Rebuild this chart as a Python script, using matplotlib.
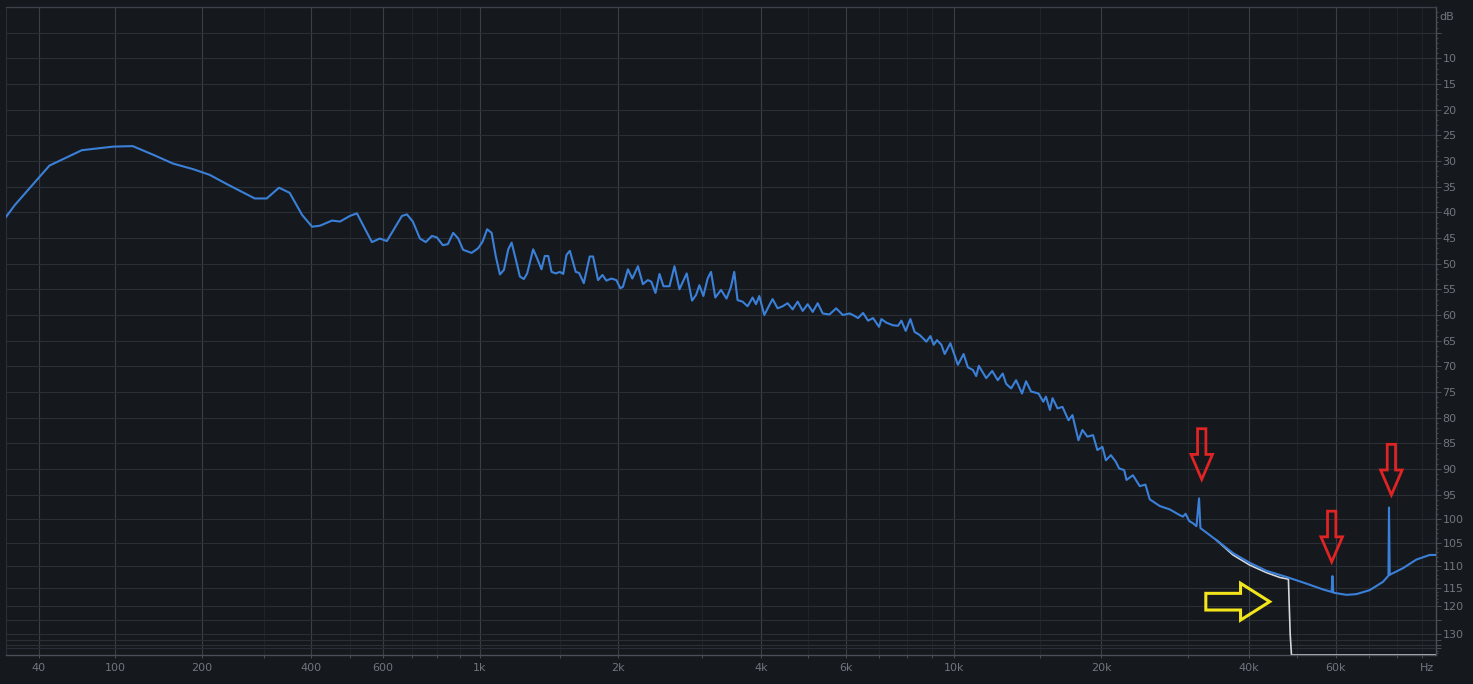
import matplotlib

matplotlib.use("Agg")
import matplotlib.pyplot as plt
import numpy as np
from matplotlib.patches import ArrowStyle

# spectrum (blue): frequency in Hz, level in dB
blue_hz = [
    20, 25, 47, 71, 98, 117, 139, 162, 188, 211, 237, 258, 284, 306, 330,
    352, 379, 402, 421, 451, 472, 499, 519, 564, 589, 612, 664, 682, 704,
    731, 754, 779, 800, 825, 847, 871, 894, 917, 958, 991, 1014, 1038, 1062,
    1085, 1108, 1131, 1156, 1176, 1202, 1226, 1251, 1272, 1311, 1338, 1367,
    1390, 1414, 1438, 1469, 1499, 1524, 1549, 1575, 1622, 1649, 1688, 1738,
    1767, 1811, 1851, 1887, 1934, 1982, 2021, 2047, 2098, 2143, 2203, 2257,
    2312, 2351, 2400, 2447, 2495, 2569, 2632, 2696, 2793, 2866, 2922, 2969,
    3027, 3090, 3141, 3207, 3296, 3385, 3458, 3513, 3569, 3656, 3745, 3836,
    3899, 3961, 4058, 4156, 4222, 4325, 4430, 4537, 4647, 4760, 4875, 4993,
    5114, 5237, 5364, 5538, 5718, 5900, 6100, 6247, 6345, 6498, 6654, 6814,
    7009, 7089, 7259, 7490, 7670, 7793, 7953, 8131, 8297, 8499, 8772, 8939,
    9080, 9222, 9416, 9564, 9824, 10179, 10457, 10671, 10925, 11098, 11235,
    11634, 11966, 12286, 12576, 12779, 13082, 13392, 13774, 14036, 14369,
    14889, 15221, 15416, 15707, 15900, 16277, 16663, 17138, 17463, 17959,
    18299, 18731, 19237, 19630, 20104, 20432, 20917, 21412, 21746, 22264,
    22508, 23200, 23956, 24600, 25107, 26314, 27578, 28902, 29353, 29700,
    30200, 30763, 31257, 31638, 31846, 34328, 37103, 40124, 43391, 48012,
    52333, 56565, 58900, 59111, 59350, 63111, 66137, 70384, 74906, 76850,
    77040, 77293, 82257, 87583, 93204, 96000,
]
blue_db = [
    -40.9, -38.6, -30.9, -27.9, -27.2, -27.1, -28.8, -30.5, -31.6, -32.7,
    -34.5, -35.8, -37.3, -37.3, -35.2, -36.2, -40.5, -42.8, -42.6, -41.6,
    -41.8, -40.7, -40.2, -45.8, -45.1, -45.6, -40.7, -40.4, -41.8, -45.1,
    -45.8, -44.6, -44.9, -46.4, -46.2, -44.0, -45.1, -47.3, -47.9, -47.0,
    -45.7, -43.3, -44.0, -48.6, -52.1, -51.2, -47.2, -45.9, -49.3, -52.5,
    -53.0, -51.9, -47.2, -49.0, -51.1, -48.5, -48.5, -51.6, -51.9, -51.6,
    -52.0, -48.3, -47.5, -51.6, -51.8, -53.8, -48.6, -48.6, -53.2, -52.2,
    -53.3, -52.9, -53.2, -54.8, -54.5, -51.1, -52.9, -50.5, -54.0, -53.2,
    -53.5, -55.7, -52.0, -54.4, -54.4, -50.5, -55.0, -51.9, -57.2, -56.1,
    -54.2, -56.3, -52.9, -51.6, -56.6, -55.1, -56.8, -54.5, -51.6, -57.1,
    -57.4, -58.3, -56.6, -57.9, -56.3, -60.0, -58.1, -56.9, -58.7, -58.3,
    -57.7, -58.9, -57.4, -59.2, -57.9, -59.4, -57.7, -59.7, -59.9, -58.7,
    -60.0, -59.7, -60.2, -60.6, -59.6, -61.1, -60.6, -62.3, -60.8, -61.5,
    -62.0, -62.1, -61.1, -63.1, -60.8, -63.3, -63.9, -65.2, -64.1, -65.8,
    -64.9, -65.8, -67.6, -65.5, -69.7, -67.6, -70.2, -70.7, -71.9, -69.9,
    -72.3, -70.9, -72.7, -71.4, -73.4, -74.3, -72.7, -75.3, -72.9, -74.9,
    -75.3, -76.9, -75.9, -78.5, -76.2, -78.2, -77.9, -80.5, -79.5, -84.4,
    -82.4, -83.7, -83.4, -86.3, -85.7, -88.3, -87.3, -88.6, -89.9, -90.2,
    -92.1, -91.2, -93.3, -93.0, -95.9, -97.3, -98.0, -99.2, -99.5, -98.9,
    -100.4, -100.9, -101.5, -95.7, -101.9, -104.4, -107.2, -109.3, -111.1,
    -112.6, -114.0, -115.4, -116.1, -112.3, -116.3, -116.9, -116.7, -115.6,
    -113.6, -112.2, -97.6, -112.0, -110.5, -108.6, -107.6, -107.6,
]

# second trace (white), only visible where it leaves the blue one
white_hz = [34328, 37103, 40124, 43391, 46181, 48100, 48500, 48800, 60000,
            80000, 96000]
white_db = [-104.4, -107.6, -109.8, -111.5, -112.6, -113.0, -130.0, -160.0,
            -160.0, -160.0, -160.0]

# red arrows (tip frequency, tip level) and yellow arrow
red_tips_hz = [32041, 58916, 77910]
red_tips_db = [-92.0, -109.1, -95.0]
yellow_tip = (44067, -118.8)

x_major = [40, 100, 200, 400, 600, 1000, 2000, 4000, 6000, 10000, 20000,
           40000, 60000]
x_labels = ["40", "100", "200", "400", "600", "1k", "2k", "4k", "6k", "10k",
            "20k", "40k", "60k"]
x_minor = [300, 500, 700, 800, 900, 1500, 3000, 5000, 7000, 8000, 9000,
           15000, 30000, 50000, 70000, 80000, 90000]

y_major = [-5] + list(range(-10, -121, -5)) + [-125, -130, -135, -140, -145]
y_labels = [""] + [str(v) for v in range(10, 121, 5)] + ["", "130", "", "", ""]
y_minor = list(range(-1, -121, -1)) + [-150, -155]

# dB axis of the analyser is linear down to -90 and squeezed below it
DB_KNOTS = np.array([-160, -150, -140, -130, -120, -115, -110, -105, -100,
                     -95, -90, 0], dtype=float)
PX_KNOTS = -np.array([655, 651, 645, 634, 606, 588, 566, 543, 519, 495, 469,
                      7], dtype=float)

BG = "#15181d"
GRID = "#2a2e35"
VMAJOR = "#3a3e46"
VMINOR = "#20242a"
SPINE = "#4a4e56"
LABEL = "#70757e"
BLUE = "#3b80d8"


def y_fwd(v):
    return np.interp(v, DB_KNOTS, PX_KNOTS)


def y_inv(u):
    return np.interp(u, PX_KNOTS, DB_KNOTS)


def x_fwd(f):
    return np.log10(np.maximum(np.asarray(f, dtype=float) + 100.0, 1e-9))


def x_inv(u):
    return 10.0 ** np.asarray(u, dtype=float) - 100.0


plt.rcParams["font.family"] = ["DejaVu Sans"]

fig = plt.figure(figsize=(14.73, 6.84), dpi=100, facecolor=BG)
ax = fig.add_axes([6 / 1473, 29 / 684, 1430 / 1473, 648 / 684], facecolor=BG)

ax.set_xscale("function", functions=(x_fwd, x_inv))
ax.set_yscale("function", functions=(y_fwd, y_inv))
ax.set_xlim(20, 96000)
ax.set_ylim(-160, 0)

# grid
for f in x_minor:
    ax.axvline(f, color=VMINOR, lw=0.8, zorder=0)
for f in x_major:
    ax.axvline(f, color=VMAJOR, lw=0.8, zorder=0)
for v in y_major:
    ax.axhline(v, color=GRID, lw=0.8, zorder=0)

ax.plot(white_hz, white_db, color="#d4d7db", lw=1.2, zorder=2)
ax.plot(blue_hz, blue_db, color=BLUE, lw=1.5, zorder=3,
        solid_joinstyle="round")

# annotation arrows
red_style = ArrowStyle.Simple(head_length=18, head_width=15.5, tail_width=6)
for fx, db in zip(red_tips_hz, red_tips_db):
    ax.annotate(
        "", xy=(fx, db), xycoords="data", xytext=(0, 36.5),
        textcoords="offset points",
        arrowprops=dict(arrowstyle=red_style, mutation_scale=1, fc="none",
                        ec="#e02424", lw=2.0, shrinkA=0, shrinkB=0,
                        joinstyle="miter"),
        zorder=5,
    )
yellow_style = ArrowStyle.Simple(head_length=21, head_width=26.5,
                                 tail_width=12)
ax.annotate(
    "", xy=yellow_tip, xycoords="data", xytext=(-46, 0),
    textcoords="offset points",
    arrowprops=dict(arrowstyle=yellow_style, mutation_scale=1, fc="none",
                    ec="#f2e51c", lw=2.2, shrinkA=0, shrinkB=0,
                    joinstyle="miter"),
    zorder=5,
)

# axes dressing
ax.set_xticks(x_major, labels=x_labels)
ax.set_xticks(x_minor, minor=True)
ax.set_yticks(y_major, labels=y_labels)
ax.set_yticks(y_minor, minor=True)
ax.yaxis.tick_right()

ax.tick_params(axis="x", which="both", direction="out", length=2.2,
               width=0.7, color=SPINE, labelcolor=LABEL, labelsize=8,
               pad=3.6)
ax.tick_params(axis="y", which="major", direction="out", length=3.6,
               width=0.7, color=SPINE, labelcolor=LABEL, labelsize=8,
               pad=1)
ax.tick_params(axis="y", which="minor", direction="out", length=1.5,
               width=0.6, color=SPINE)

for side in ["bottom", "right"]:
    ax.spines[side].set_color(SPINE)
    ax.spines[side].set_linewidth(1.0)
ax.spines["top"].set_color("#3c4048")
ax.spines["top"].set_linewidth(1.0)
ax.spines["left"].set_color(GRID)
ax.spines["left"].set_linewidth(0.8)

fig.text(1447 / 1473, 1 - 17 / 684, "dB", color=LABEL, fontsize=8,
         ha="center", va="center")
fig.text(1427 / 1473, 1 - 668 / 684, "Hz", color=LABEL, fontsize=8,
         ha="center", va="center")

fig.savefig("out.png", dpi=100, facecolor=BG)
